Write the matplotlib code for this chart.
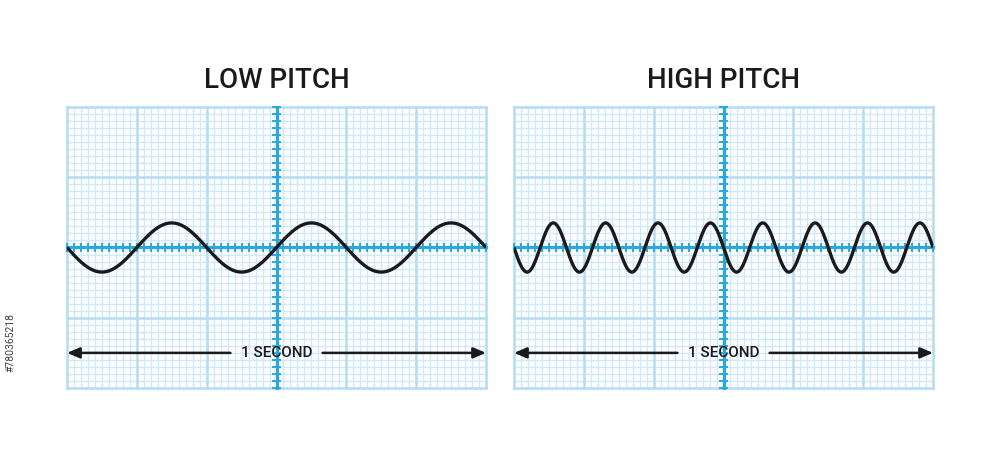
import numpy as np
import matplotlib.pyplot as plt

# Data
titles = ["LOW PITCH", "HIGH PITCH"]
cycles = [3, 8]            # full waves inside one second
amplitude = 0.35           # in major grid cells
span_label = "1 SECOND"
n_major_x = 6
n_major_y = 4

# Colours
minor_c = "#cfe9f8"
major_c = "#b5ddf3"
axis_c = "#29a8e0"

plt.rcParams['font.family'] = ['Roboto', 'DejaVu Sans']

fig = plt.figure(figsize=(10, 4.58), dpi=100)
fig.patch.set_facecolor("white")

lefts = [67 / 1000, 514 / 1000]
bottom = 1 - 388 / 458
height = 281 / 458
width = 419 / 1000

for left, title, cyc in zip(lefts, titles, cycles):
    ax = fig.add_axes([left, bottom, width, height])
    ax.set_xlim(0, n_major_x)
    ax.set_ylim(-n_major_y / 2, n_major_y / 2)
    ax.axis("off")

    # Minor grid
    for v in np.arange(0, n_major_x + 0.001, 0.1):
        ax.plot([v, v], [-2, 2], color=minor_c, lw=1.0, zorder=1, clip_on=False)
    for v in np.arange(-2, 2.001, 0.1):
        ax.plot([0, n_major_x], [v, v], color=minor_c, lw=1.0, zorder=1, clip_on=False)
    # Major grid
    for v in range(n_major_x + 1):
        ax.plot([v, v], [-2, 2], color=major_c, lw=1.8, zorder=2, clip_on=False)
    for v in range(-2, 3):
        ax.plot([0, n_major_x], [v, v], color=major_c, lw=1.8, zorder=2, clip_on=False)

    # Centre axes with ticks
    cx = n_major_x / 2
    ax.plot([0, n_major_x], [0, 0], color=axis_c, lw=2.3, zorder=3, clip_on=False)
    ax.plot([cx, cx], [-2, 2], color=axis_c, lw=2.3, zorder=3, clip_on=False)
    for v in np.arange(0, n_major_x + 0.001, 0.1):
        ax.plot([v, v], [-0.055, 0.055], color=axis_c, lw=1.4, zorder=3, clip_on=False)
    for v in np.arange(-2, 2.001, 0.1):
        ax.plot([cx - 0.055, cx + 0.055], [v, v], color=axis_c, lw=1.4, zorder=3, clip_on=False)

    # Wave
    t = np.linspace(0, n_major_x, 1200)
    y = -amplitude * np.sin(2 * np.pi * cyc * t / n_major_x)
    ax.plot(t, y, color="#1a1a1a", lw=2.4, zorder=5, solid_capstyle="butt")

    # 1 second arrow
    ya = -1.5
    gap = 0.66
    arrow = dict(arrowstyle="-|>,head_length=0.75,head_width=0.32",
                 color="#1a1a1a", lw=1.8, shrinkA=0, shrinkB=0)
    ax.annotate("", xy=(0, ya), xytext=(cx - gap, ya), arrowprops=arrow, zorder=6,
                annotation_clip=False)
    ax.annotate("", xy=(n_major_x, ya), xytext=(cx + gap, ya), arrowprops=arrow,
                zorder=6, annotation_clip=False)
    ax.text(cx, ya, span_label, ha="center", va="center", fontsize=11,
            fontweight="medium", color="#1a1a1a", zorder=7)

    # Title
    fig.text(left + width / 2, 1 - 80 / 458, title, ha="center", va="center",
             fontsize=20, fontweight="medium", color="#1a1a1a")

# Stock id along left edge
fig.text(0.010, 1 - 343 / 458, "#780365218", rotation=90, ha="center", va="center",
         fontsize=7.5, color="#444444")

fig.savefig("out.png", dpi=100, facecolor="white")
